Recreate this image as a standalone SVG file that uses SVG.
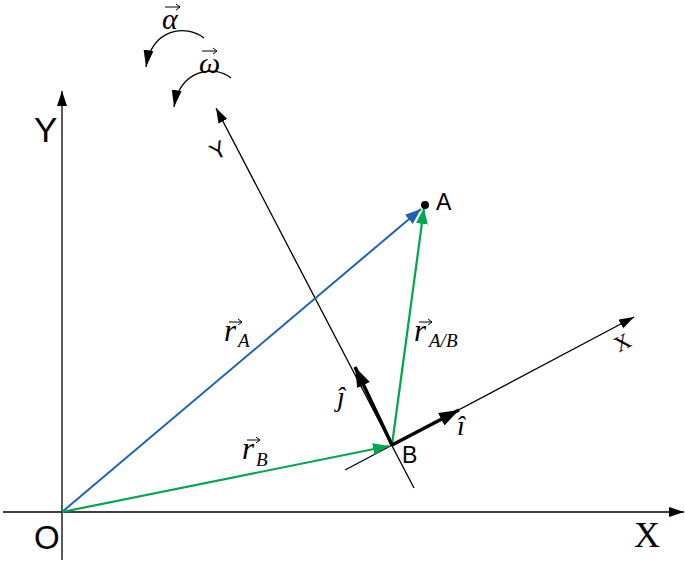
<svg xmlns="http://www.w3.org/2000/svg" width="685" height="563" viewBox="0 0 685 563">
<defs>
<marker id="ax" markerUnits="userSpaceOnUse" markerWidth="16" markerHeight="12" refX="15" refY="5" orient="auto"><path d="M0,0 L15,5 L0,10 z" fill="#000"/></marker>
<marker id="bl" markerUnits="userSpaceOnUse" markerWidth="18" markerHeight="14" refX="16" refY="6" orient="auto"><path d="M0,0 L16,6 L0,12 z" fill="#1F63B5"/></marker>
<marker id="gr" markerUnits="userSpaceOnUse" markerWidth="18" markerHeight="14" refX="16" refY="6" orient="auto"><path d="M0,0 L16,6 L0,12 z" fill="#00A651"/></marker>
<marker id="uv" markerUnits="userSpaceOnUse" markerWidth="22" markerHeight="16" refX="20" refY="7" orient="auto"><path d="M0,0 L20,7 L0,14 z" fill="#000"/></marker>
<marker id="cv" markerUnits="userSpaceOnUse" markerWidth="18" markerHeight="12" refX="17" refY="5" orient="auto"><path d="M0,0 L17,5 L0,10 z" fill="#000"/></marker>
</defs>
<style>
.ax{stroke:#000;stroke-width:1.3;fill:none}
.sans{font-family:"Liberation Sans",Arial,sans-serif;fill:#000}
.math{font-family:"Liberation Serif","DejaVu Serif",serif;font-style:italic;fill:#000}
.va{stroke:#000;stroke-width:1;fill:none}
</style>
<g id="connectors">
<line class="ax" x1="3" y1="512" x2="684" y2="512" marker-end="url(#ax)"/>
<line class="ax" x1="62" y1="560" x2="62" y2="91" marker-end="url(#ax)"/>
<line class="ax" x1="414" y1="488" x2="216" y2="108" marker-end="url(#ax)"/>
<line class="ax" x1="345" y1="470" x2="634" y2="317" marker-end="url(#ax)"/>
<line x1="62" y1="512" x2="421" y2="209" stroke="#1F63B5" stroke-width="2" marker-end="url(#bl)"/>
<line x1="62" y1="512" x2="389" y2="446" stroke="#00A651" stroke-width="2.2" marker-end="url(#gr)"/>
<line x1="392" y1="445" x2="424" y2="208" stroke="#00A651" stroke-width="2.2" marker-end="url(#gr)"/>
<line x1="392" y1="445" x2="355" y2="367" stroke="#000" stroke-width="3.5" marker-end="url(#uv)"/>
<line x1="392" y1="445" x2="459" y2="410" stroke="#000" stroke-width="3.5" marker-end="url(#uv)"/>
<path d="M204,38 C186,24 152,28 146,67" fill="none" stroke="#000" stroke-width="1.3" marker-end="url(#cv)"/>
<path d="M231,78 C213,64 180,70 174,107" fill="none" stroke="#000" stroke-width="1.3" marker-end="url(#cv)"/>
</g>
<g id="A"><circle cx="425" cy="205" r="4" fill="#000"/><text class="sans" x="436" y="210" font-size="23">A</text></g>
<g id="B"><text class="sans" x="402" y="463" font-size="23">B</text></g>
<g id="O"><text class="sans" x="34" y="549" font-size="33">O</text></g>
<g id="axis-labels">
<text class="sans" x="34" y="142" font-size="35">Y</text>
<text x="634" y="547" font-size="36" font-family="Liberation Serif,serif">X</text>
<text class="sans" x="218" y="158" font-size="23" transform="rotate(-28 218 150)" text-anchor="middle">Y</text>
<text x="622" y="350" font-size="22" font-family="Liberation Serif,serif" transform="rotate(-28 622 342)" text-anchor="middle">X</text>
</g>
<g id="labels">
<text class="math" x="224" y="341" font-size="31">r</text><text class="math" x="238" y="347" font-size="19">A</text>
<path class="va" d="M229,322 h13 M238,319 l4,3 l-4,3"/>
<text class="math" x="242" y="459" font-size="31">r</text><text class="math" x="256" y="466" font-size="19">B</text>
<path class="va" d="M247,440 h13 M256,437 l4,3 l-4,3"/>
<text class="math" x="414" y="341" font-size="31">r</text><text class="math" x="429" y="347" font-size="19">A/B</text>
<path class="va" d="M419,322 h13 M428,319 l4,3 l-4,3"/>
<text class="math" x="337" y="406" font-size="28">ĵ</text>
<text class="math" x="457" y="435" font-size="28">î</text>
<text class="math" x="162" y="29" font-size="30">α</text>
<path class="va" d="M165,7 h15 M176,4 l4,3 l-4,3"/>
<text class="math" x="199" y="73" font-size="30">ω</text>
<path class="va" d="M202,51 h15 M213,48 l4,3 l-4,3"/>
</g>
</svg>
